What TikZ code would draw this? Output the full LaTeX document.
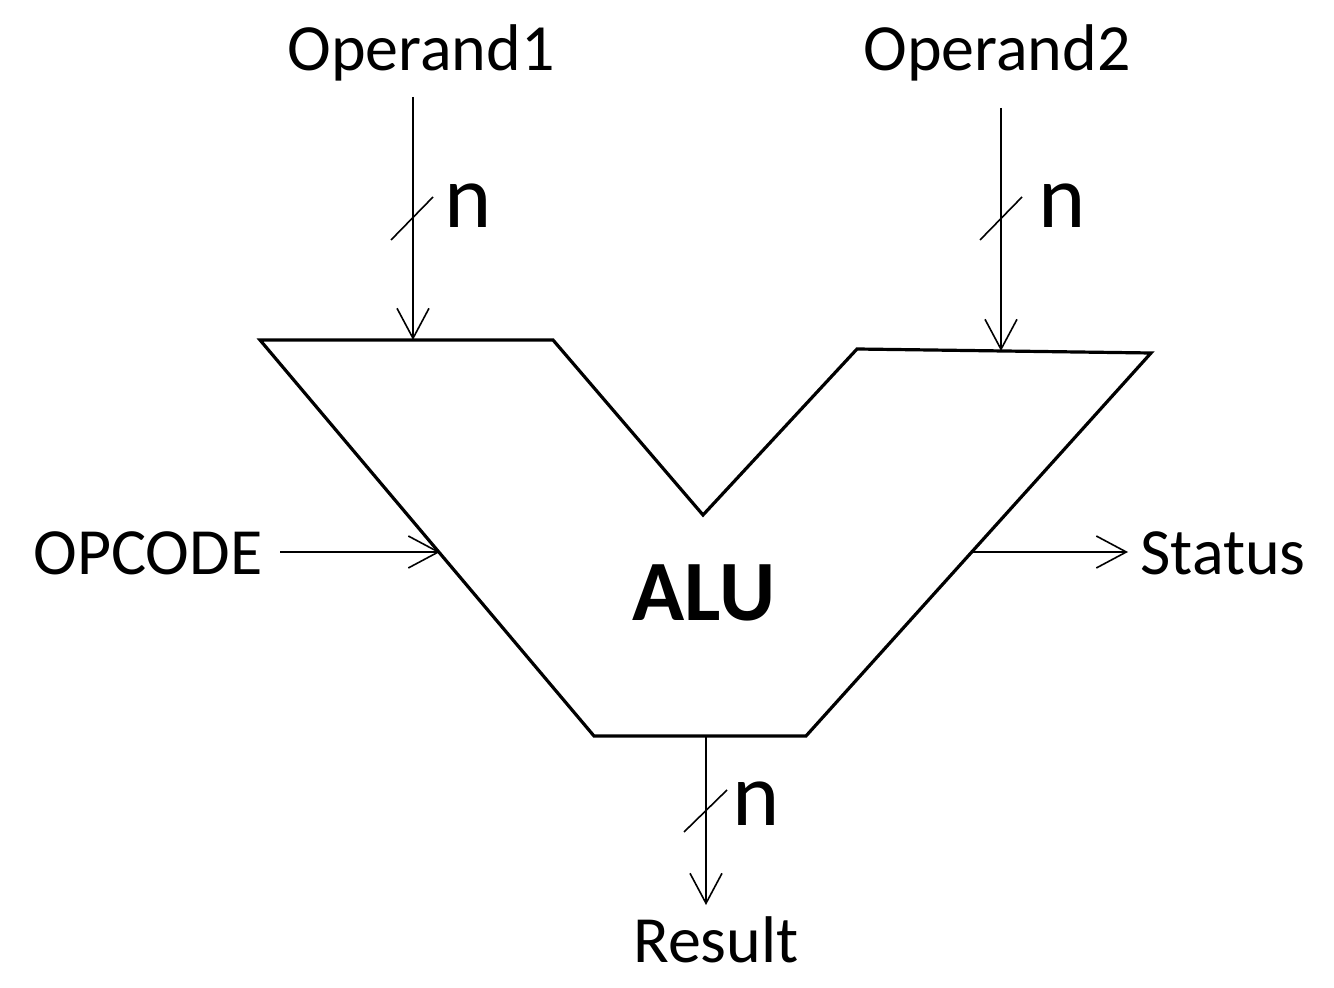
\documentclass[tikz,border=0pt]{standalone}
\usepackage{fontspec}
\setmainfont{Carlito}
\usetikzlibrary{arrows.meta}
\begin{document}
\begin{tikzpicture}[x=0.5pt,y=-0.5pt,
  lbl/.style={font=\fontsize{33}{40}\selectfont, inner sep=0pt},
  nn/.style={font=\fontsize{45}{52}\selectfont, inner sep=0pt},
  sig/.style={line width=0.8pt, -{Straight Barb[length=15pt,width=16pt,line width=0.8pt]}},
  bus/.style={line width=0.8pt}]
\useasboundingbox (0,0) rectangle (1334,988);
\draw[line width=1.6pt, line join=miter] (260,340) -- (553,340) -- (703,515) -- (857,349) -- (1151,353) -- (806,736) -- (594,736) -- cycle;
\node[lbl] (op1) at (421,53) {Operand1};
\node[lbl] (op2) at (997,53) {Operand2};
\node[lbl] (opc) at (148,553) {OPCODE};
\node[lbl] (st) at (1223,553) {Status};
\node[lbl] (res) at (716,940) {Result};
\node[font=\fontsize{43}{50}\selectfont\bfseries, inner sep=0pt] (alu) at (704,593) {ALU};
\node[nn] (n1) at (468,206) {n};
\node[nn] (n2) at (1062,206) {n};
\node[nn] (n3) at (756,804) {n};
\coordinate (a1s) at (413,97); \coordinate (a1e) at (413,340);
\coordinate (a2s) at (1001,108); \coordinate (a2e) at (1001,351);
\coordinate (rs) at (706,736); \coordinate (re) at (706,905);
\coordinate (os) at (280,552); \coordinate (oe) at (440,552);
\coordinate (ss) at (973,552); \coordinate (se) at (1128,552);
\draw[sig] (a1s) -- (a1e);
\draw[sig] (a2s) -- (a2e);
\draw[sig] (rs) -- (re);
\draw[sig] (os) -- (oe);
\draw[sig] (ss) -- (se);
\draw[bus] (391,240) -- (433,197);
\draw[bus] (980,240) -- (1022,197);
\draw[bus] (684,832) -- (727,790);
\end{tikzpicture}
\end{document}
